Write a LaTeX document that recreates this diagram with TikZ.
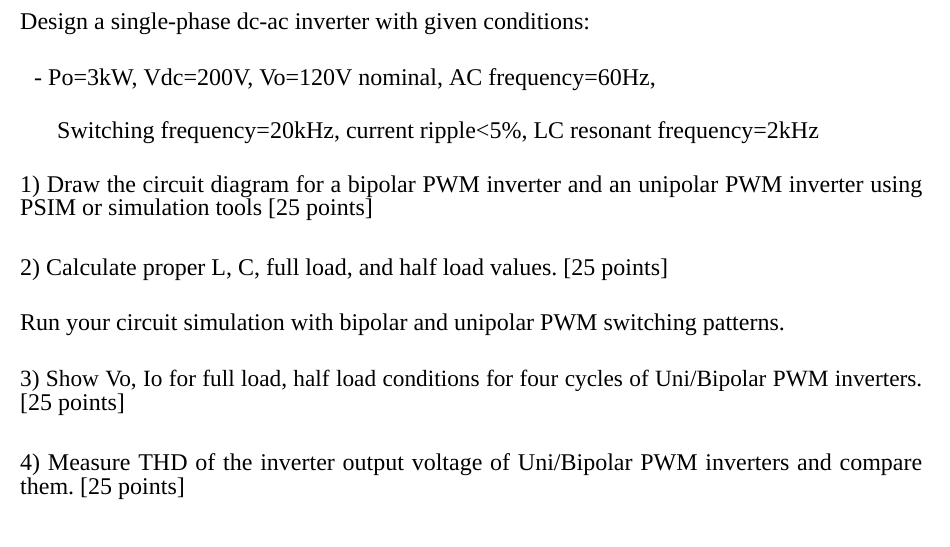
\documentclass[tikz,border=0pt]{standalone}
\usepackage{fontspec}
\setmainfont{Liberation Serif}
\begin{document}
\frenchspacing
\begin{tikzpicture}[x=1pt,y=-1pt,txt/.style={anchor=base west,inner sep=0pt,font=\fontsize{24}{28}\selectfont},tight/.style={anchor=base west,inner sep=0pt,font=\fontsize{23.3}{27}\selectfont}]
\useasboundingbox (0,0) rectangle (950,546);
\node[txt] (l1) at (20,29) {Design a single-phase dc-ac inverter with given conditions:};
\node[txt] (l2) at (34,85) {- Po=3kW, Vdc=200V, Vo=120V nominal, AC frequency=60Hz,};
\node[txt] (l3) at (57,138) {Switching frequency=20kHz, current ripple<5\%, LC resonant frequency=2kHz};
\node[txt] (l4) at (20,192) {\makebox[902pt][s]{1) Draw the circuit diagram for a bipolar PWM inverter and an unipolar PWM inverter using}};
\node[txt] (l5) at (20,215) {PSIM or simulation tools [25 points]};
\node[txt] (l6) at (20,275) {2) Calculate proper L, C, full load, and half load values. [25 points]};
\node[txt] (l7) at (20,330) {Run your circuit simulation with bipolar and unipolar PWM switching patterns.};
\node[tight] (l8) at (20,386) {\makebox[902pt][s]{3) Show Vo, Io for full load, half load conditions for four cycles of Uni/Bipolar PWM inverters.}};
\node[txt] (l9) at (20,410) {[25 points]};
\node[txt] (l10) at (20,470) {\makebox[902pt][s]{4) Measure THD of the inverter output voltage of Uni/Bipolar PWM inverters and compare}};
\node[txt] (l11) at (20,494) {them. [25 points]};
\end{tikzpicture}
\end{document}
